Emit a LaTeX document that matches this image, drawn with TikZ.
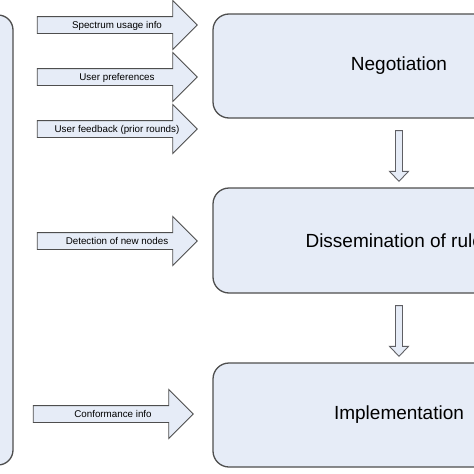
\documentclass[tikz,border=0pt]{standalone}
\usepackage{fontspec}
\setmainfont{Liberation Sans}
\usepackage{tikz}
\usetikzlibrary{shapes.arrows,calc}
\definecolor{paleblue}{RGB}{230,236,247}
\definecolor{edgegrey}{RGB}{78,78,78}
\definecolor{tipgrey}{RGB}{95,95,100}

\begin{document}
\begin{tikzpicture}[x=1pt, y=-1pt,
    stage/.style={rectangle, rounded corners=16pt, draw=edgegrey, line width=1.3pt, fill=paleblue,
                 minimum width=372pt, minimum height=104pt, align=center, font=\fontsize{19}{22}\selectfont},
    infoarrow/.style={single arrow, draw=edgegrey, line width=0.9pt, fill=paleblue, minimum height=160pt,
                 single arrow head extend=16pt, inner ysep=3.2pt, inner xsep=2pt, text height=7.8pt, text depth=1.8pt,
                 font=\fontsize{9.8}{11}\selectfont, execute at begin node=\hspace*{8pt}},
    flowdown/.style={draw=tipgrey, line width=0.9pt, fill=paleblue,
                 to path={let \p1=(\tikztostart), \p2=(\tikztotarget) in
                 (\x1-3.5pt,\y1-12pt) -- (\x1-3.5pt,\y2+16pt) -- (\x1-9.5pt,\y2+16pt) -- (\x1,\y2+6pt)
                 -- (\x1+9.5pt,\y2+16pt) -- (\x1+3.5pt,\y2+16pt) -- (\x1+3.5pt,\y1-12pt) -- cycle}}
]
\useasboundingbox (0,0) rectangle (474,474);
\clip (0,0) rectangle (474,474);

\node[stage, rounded corners=15pt, minimum width=90pt, minimum height=450pt] (agent) at (-32,240) {};

\node[stage] (negot) at (399,66) {Negotiation};
\node[stage, minimum height=105pt] (dissem) at (399,240.5) {Dissemination of rules};
\node[stage] (implem) at (399,415) {Implementation};

\node[infoarrow] (usage) at (113,25) {Spectrum usage info};
\node[infoarrow] (prefs) at (113,77) {User preferences};
\node[infoarrow] (feedback) at (113,129) {User feedback (prior rounds)};
\node[infoarrow] (newnodes) at (113,241) {Detection of new nodes};
\node[infoarrow] (conform) at (109,414) {Conformance info};

\draw[flowdown] (negot.south) to (dissem.north);
\draw[flowdown] (dissem.south) to (implem.north);
\end{tikzpicture}
\end{document}
